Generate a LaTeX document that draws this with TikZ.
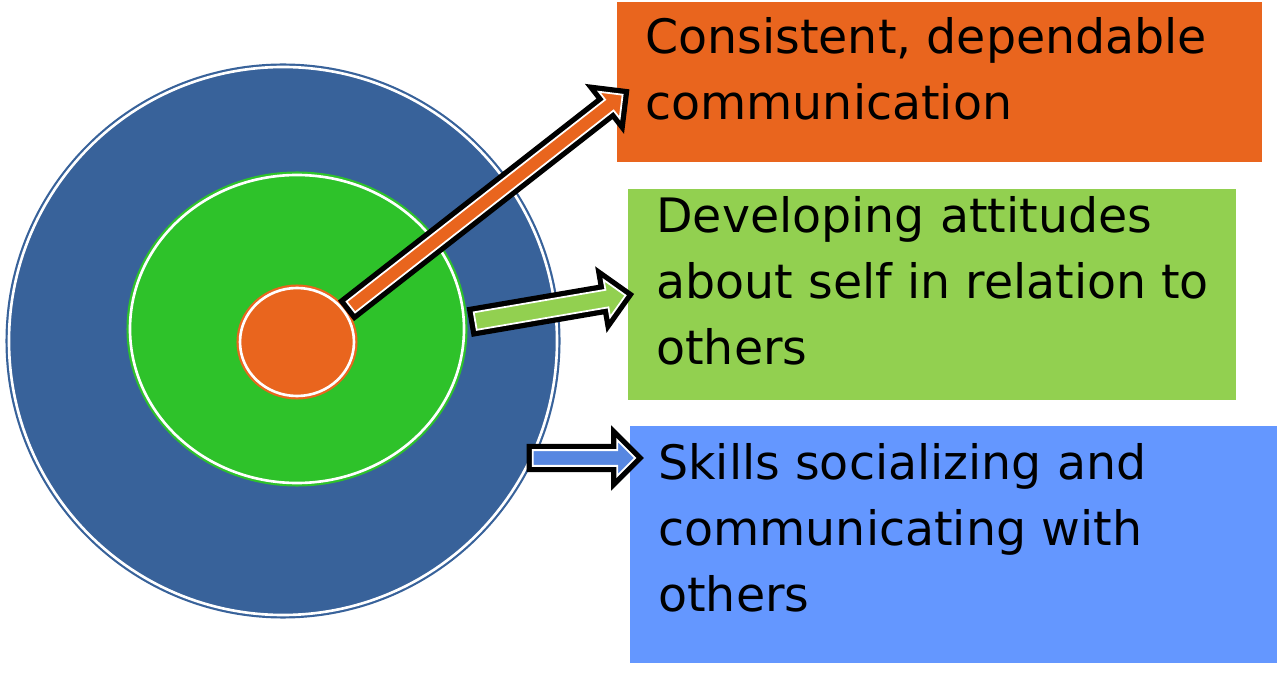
\documentclass[tikz,border=0pt]{standalone}
\usepackage{fontspec}
\setmainfont{DejaVu Sans}
\usetikzlibrary{shapes.arrows}
\definecolor{ringblue}{RGB}{56,98,154}
\definecolor{ringgreen}{RGB}{46,194,42}
\definecolor{dotorange}{RGB}{233,101,30}
\definecolor{boxgreen}{RGB}{146,208,80}
\definecolor{boxblue}{RGB}{100,151,255}
\tikzset{
  ring/.style={draw=white,line width=1.5pt,preaction={draw=#1,line width=4pt},fill=#1},
  label/.style={anchor=north west,inner sep=0pt,font=\fontsize{27}{37.5}\selectfont,align=left},
  blockarrow/.style={single arrow,draw=white,line width=1pt,
    preaction={draw=black,line width=7pt},fill=#1,inner xsep=0pt,
    single arrow head extend=0.2cm,single arrow tip angle=90}
}
\begin{document}
\begin{tikzpicture}[x=0.02cm,y=-0.02cm]
  \useasboundingbox (0,0) rectangle (1277,685);

  % target rings
  \draw[ring=ringblue] (283,341) circle [x radius=274,y radius=274];
  \draw[ring=ringgreen] (297,329) circle [x radius=167,y radius=154];
  \draw[ring=dotorange] (297,342) circle [x radius=57,y radius=54];

  % boxes
  \fill[dotorange] (617,2) rectangle (1262,162);
  \fill[boxgreen] (628,189) rectangle (1236,400);
  \fill[boxblue] (630,426) rectangle (1277,663);
  \node[label] (comm) at (645,17) {Consistent, dependable\\communication};
  \node[label] (self) at (656,196) {Developing attitudes\\about self in relation to\\others};
  \node[label] (skill) at (658,443) {Skills socializing and\\communicating with\\others};

  % arrows
  \node[blockarrow=dotorange,minimum height=6.9cm,inner ysep=0.12cm,rotate=38] (arrcomm) at (484,203) {};
  \node[blockarrow=boxgreen,minimum height=3.05cm,inner ysep=0.16cm,rotate=9.7] (arrself) at (546,309) {};
  \node[blockarrow=boxblue!70!ringblue,minimum height=2.05cm,inner ysep=0.14cm] (arrskill) at (580,458) {};
\end{tikzpicture}
\end{document}
